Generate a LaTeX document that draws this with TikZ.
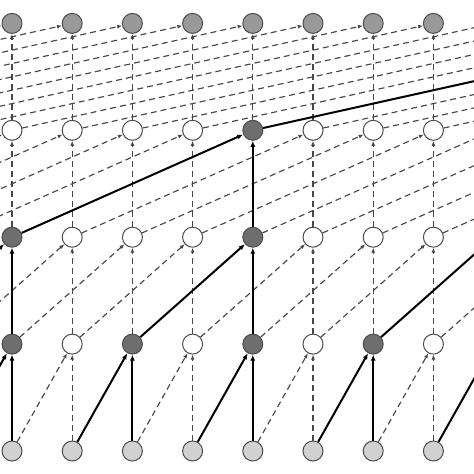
\documentclass[tikz,border=0pt]{standalone}
\usetikzlibrary{arrows.meta}
\begin{document}
\begin{tikzpicture}[x=1pt,y=-1pt,
  unit/.style={circle,draw=black!70,line width=1pt,minimum size=20pt,inner sep=0pt},
  inp/.style={unit,fill=black!18},
  hid/.style={unit,fill=white},
  act/.style={unit,fill=black!57},
  outp/.style={unit,fill=black!40},
  dashedge/.style={draw=black!72,line width=1.15pt,dash pattern=on 6pt off 4pt,-{Latex[length=5pt,width=4pt]}},
  solidedge/.style={draw=black,line width=2pt,-{Latex[length=6pt,width=5pt]}}]
\useasboundingbox (0,0) rectangle (474,474);
\clip (0,0) rectangle (474,474);
% grid of units; off-picture columns are plain coordinates
\foreach \k in {0,...,4} {
  \foreach \i in {-8,...,15} {
    \pgfmathsetmacro{\xx}{12+60.2*\i}
    \pgfmathsetmacro{\yy}{451-106.9*\k}
    \pgfmathtruncatemacro{\a}{mod(12-\i+16,2^\k)==0 ? 1 : 0}
    \ifnum\k=0 \def\st{inp}\else\ifnum\k=4 \def\st{outp}\else\ifnum\a=1 \def\st{act}\else\def\st{hid}\fi\fi\fi
    \ifnum\i<0
      \coordinate (n\i-\k) at (\xx,\yy);
    \else\ifnum\i>7
      \coordinate (n\i-\k) at (\xx,\yy);
    \else
      \node[\st] (n\i-\k) at (\xx,\yy) {};
    \fi\fi
  }
}
% connections: dashed first, then the solid path
\foreach \pass in {0,1} {
  \foreach \k/\d in {1/1,2/2,3/4,4/8} {
    \pgfmathtruncatemacro{\km}{\k-1}
    \pgfmathtruncatemacro{\imax}{7+\d}
    \foreach \i in {0,...,\imax} {
      \pgfmathtruncatemacro{\s}{\i-\d}
      \pgfmathtruncatemacro{\a}{mod(12-\i+16,2^\k)==0 ? 1 : 0}
      \ifnum\a=\pass
        \ifnum\a=1 \def\es{solidedge}\else\def\es{dashedge}\fi
        \ifnum\i<8 \draw[\es] (n\i-\km) -- (n\i-\k); \fi
        \draw[\es] (n\s-\km) -- (n\i-\k);
      \fi
    }
  }
}
\end{tikzpicture}
\end{document}
